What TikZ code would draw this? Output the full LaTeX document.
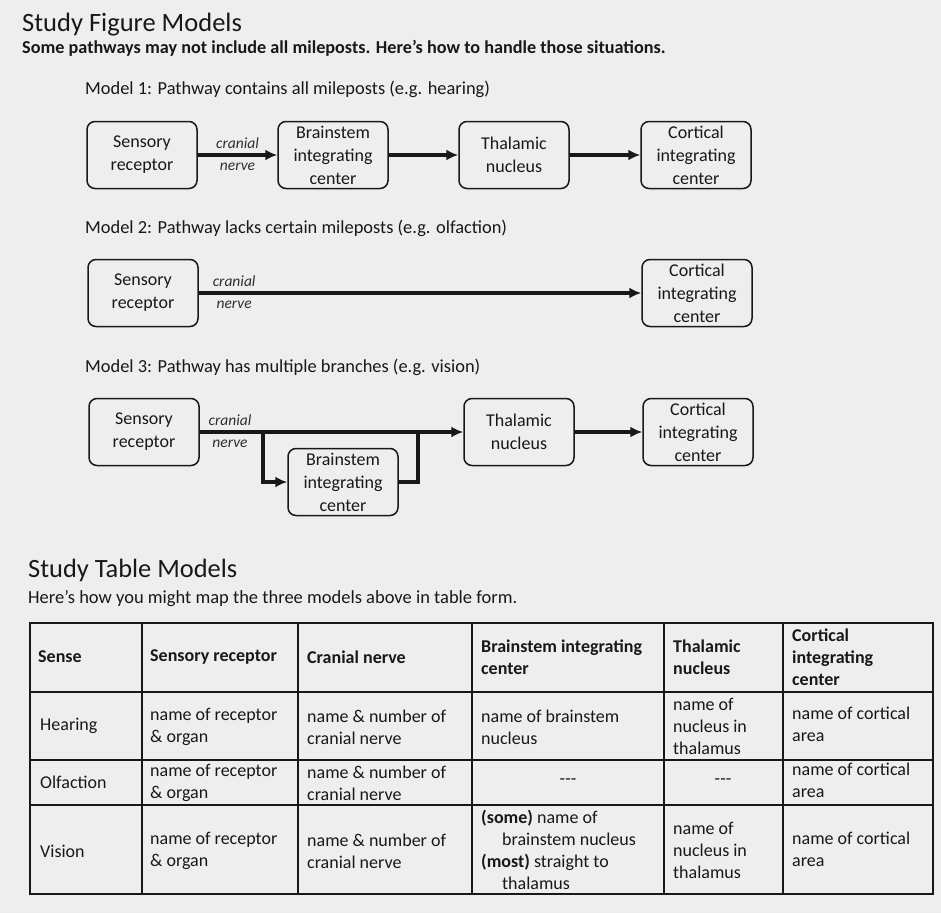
\documentclass[tikz,border=0pt]{standalone}
\usepackage{fontspec}
\setmainfont{Carlito}
\usetikzlibrary{shapes,arrows.meta,positioning}
\definecolor{paper}{RGB}{238,238,238}
\definecolor{ink}{RGB}{24,24,24}
\tikzstyle{block} = [rectangle, rounded corners=8pt, draw=ink, line width=1.5pt, fill=paper,
    minimum width=110pt, minimum height=67pt, inner sep=2pt, align=center, text=ink,
    font=\fontsize{18}{23}\selectfont]
\tikzstyle{line} = [draw=ink, line width=3.1pt, -{Latex[length=12pt,width=11pt]}]
\tikzstyle{trunk} = [draw=ink, line width=3.1pt]
\tikzstyle{nervelabel} = [font=\fontsize{15.5}{17}\selectfont\itshape, text=ink!90, inner sep=2pt]
\tikzstyle{heading} = [anchor=base west, inner sep=0pt, text=ink]
\tikzstyle{cell} = [anchor=west, align=left, inner sep=0pt, text=ink, font=\fontsize{18}{22}\selectfont]
\tikzstyle{headcell} = [cell, font=\fontsize{18}{22}\selectfont\bfseries]
\tikzstyle{grid} = [draw=ink, line width=1.4pt]
\begin{document}
\begin{tikzpicture}[x=1pt, y=1pt]
    \fill [paper] (0,0) rectangle (941,-913);
    \useasboundingbox (0,0) rectangle (941,-913);

    % Headings
    \node [heading, font=\fontsize{26.5}{30}\selectfont] (figtitle) at (22,-31) {Study Figure Models};
    \node [heading, font=\fontsize{18.2}{21}\selectfont\bfseries] (figintro) at (22,-53) {Some pathways may not include all mileposts. Here’s how to handle those situations.};
    \node [heading, font=\fontsize{18.4}{21}\selectfont] (model1) at (85,-94) {Model 1: Pathway contains all mileposts (e.g. hearing)};
    \node [heading, font=\fontsize{18.4}{21}\selectfont] (model2) at (85,-233) {Model 2: Pathway lacks certain mileposts (e.g. olfaction)};
    \node [heading, font=\fontsize{18.4}{21}\selectfont] (model3) at (85,-372) {Model 3: Pathway has multiple branches (e.g. vision)};

    % Model 1
    \node [block] (sense1) at (142,-155) {Sensory\\ receptor};
    \node [block, right of=sense1, node distance=191pt] (brain1) {Brainstem\\ integrating\\ center};
    \node [block, right of=brain1, node distance=181pt] (thal1) {Thalamic\\ nucleus};
    \node [block, right of=thal1, node distance=182pt] (cort1) {Cortical\\ integrating\\ center};

    % Model 2
    \node [block] (sense2) at (143,-293) {Sensory\\ receptor};
    \node [block, right of=sense2, node distance=554pt] (cort2) {Cortical\\ integrating\\ center};

    % Model 3
    \node [block] (sense3) at (144,-432) {Sensory\\ receptor};
    \node [block, right of=sense3, node distance=375pt] (thal3) {Thalamic\\ nucleus};
    \node [block, right of=thal3, node distance=179pt] (cort3) {Cortical\\ integrating\\ center};
    \node [block] (brain3) at (343,-482) {Brainstem\\ integrating\\ center};
    \coordinate (split) at (263,-432);
    \coordinate (merge) at (418,-432);

    % Draw edges
    \path [line] (sense1) -- node [nervelabel, above=2.5pt] (cn1) {cranial} node [nervelabel, below=4pt] (nn1) {nerve} (brain1);
    \path [line] (brain1) -- (thal1);
    \path [line] (thal1) -- (cort1);
    \path [line] (sense2) -- node [nervelabel, above=2.5pt, pos=0.08] (cn2) {cranial} node [nervelabel, below=4pt, pos=0.08] (nn2) {nerve} (cort2);
    \path [line] (sense3) -- node [nervelabel, above=2.5pt, pos=0.115] (cn3) {cranial} node [nervelabel, below=4pt, pos=0.115] (nn3) {nerve} (thal3);
    \path [line] (split) |- (brain3);
    \path [trunk] (brain3) -| (merge);
    \path [line] (thal3) -- (cort3);

    % Table
    \node [heading, font=\fontsize{26.4}{30}\selectfont] (tabtitle) at (28,-577) {Study Table Models};
    \node [heading, font=\fontsize{18.5}{21}\selectfont] (tabintro) at (28,-603) {Here’s how you might map the three models above in table form.};
    \draw [grid] (30,-623) rectangle (933,-894);
    \draw [grid] (30,-692) -- (933,-692);
    \draw [grid] (30,-760) -- (933,-760);
    \draw [grid] (30,-805) -- (933,-805);
    \draw [grid] (142,-623) -- (142,-894);
    \draw [grid] (298,-623) -- (298,-894);
    \draw [grid] (472,-623) -- (472,-894);
    \draw [grid] (664,-623) -- (664,-894);
    \draw [grid] (783,-623) -- (783,-894);

    % header row
    \node [headcell] (hsense) at (38,-657) {Sense};
    \node [headcell] (hrecep) at (150,-657) {Sensory receptor};
    \node [headcell] (hnerve) at (307,-657) {Cranial nerve};
    \node [headcell] (hbrain) at (481,-657) {Brainstem integrating\\ center};
    \node [headcell] (hthal) at (673,-657) {Thalamic\\ nucleus};
    \node [headcell] (hcort) at (792,-657) {Cortical\\ integrating\\ center};

    % hearing row
    \node [cell] (hearing) at (40,-726) {Hearing};
    \node [cell] (hrecep1) at (150,-727) {name of receptor\\ \& organ};
    \node [cell] (hnerve1) at (307,-727) {name \& number of\\ cranial nerve};
    \node [cell] (hbrain1) at (481,-727) {name of brainstem\\ nucleus};
    \node [cell] (hthal1) at (673,-726) {name of\\ nucleus in\\ thalamus};
    \node [cell] (hcort1) at (792,-724) {name of cortical\\ area};

    % olfaction row
    \node [cell] (olfaction) at (40,-782) {Olfaction};
    \node [cell] (orecep) at (150,-783) {name of receptor\\ \& organ};
    \node [cell] (onerve) at (307,-783) {name \& number of\\ cranial nerve};
    \node [cell, anchor=center] (obrain) at (568,-782) {-{}-{}-};
    \node [cell, anchor=center] (othal) at (723,-782) {-{}-{}-};
    \node [cell] (ocort) at (792,-780) {name of cortical\\ area};

    % vision row
    \node [cell] (vision) at (40,-851) {Vision};
    \node [cell] (vrecep) at (150,-851) {name of receptor\\ \& organ};
    \node [cell] (vnerve) at (307,-851) {name \& number of\\ cranial nerve};
    \node [cell] (vbrain) at (481,-850) {\textbf{(some)} name of\\ \hspace*{21pt}brainstem nucleus\\ \textbf{(most)} straight to\\ \hspace*{21pt}thalamus};
    \node [cell] (vthal) at (673,-850) {name of\\ nucleus in\\ thalamus};
    \node [cell] (vcort) at (792,-849) {name of cortical\\ area};

\end{tikzpicture}
\end{document}
